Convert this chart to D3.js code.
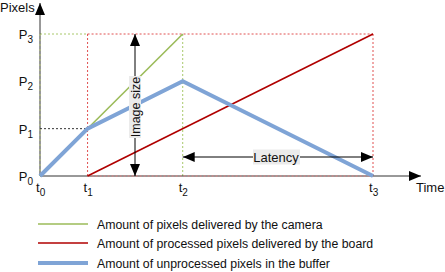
<!DOCTYPE html>
<html>
<head>
<meta charset="utf-8">
<script src="https://cdn.jsdelivr.net/npm/d3@7"></script>
<style>
  body { margin: 0; background: #fff; }
  svg { font-family: "Liberation Sans", Arial, sans-serif; }
</style>
</head>
<body>
<svg id="chart" width="445" height="272"></svg>
<script>
// time ticks t0..t3 and pixel ticks P0..P3 (in arbitrary units)
const timeTicks = [0, 1, 3, 7];
const timeNames = ["0", "1", "2", "3"];
const pixelTicks = [0, 1, 2, 3];
const pixelNames = ["0", "1", "2", "3"];

// series as [time, pixels]
const camera = [[0, 0], [3, 3]];
const board = [[1, 0], [7, 3]];
const buffer = [[0, 0], [1, 1], [3, 2], [7, 0]];

const legendItems = [
  {label: "Amount of pixels delivered by the camera", color: "#9bbb59", width: 1.6},
  {label: "Amount of processed pixels delivered by the board", color: "#b00000", width: 1.6},
  {label: "Amount of unprocessed pixels in the buffer", color: "#7fa4d6", width: 4}
];

const svg = d3.select("#chart");
const x = d3.scaleLinear().domain([0, 7]).range([40, 373]);
const y = d3.scaleLinear().domain([0, 3]).range([176, 34]);
const line = d3.line().x(d => x(d[0])).y(d => y(d[1]));

const defs = svg.append("defs");
defs.append("marker")
  .attr("id", "arr")
  .attr("viewBox", "0 0 12 10")
  .attr("refX", 12).attr("refY", 5)
  .attr("markerWidth", 12).attr("markerHeight", 10)
  .attr("markerUnits", "userSpaceOnUse")
  .attr("orient", "auto-start-reverse")
  .append("path").attr("d", "M0,0L12,5L0,10Z").attr("fill", "#000");

const g = svg.append("g");

// guide lines
const guide = (x1, y1, x2, y2, c, dash) => g.append("line")
  .attr("x1", x1).attr("y1", y1).attr("x2", x2).attr("y2", y2)
  .attr("stroke", c).attr("stroke-width", 1).attr("stroke-dasharray", dash);

// red dotted box around the board output
guide(x(1), y(3), x(7), y(3), "#e05050", "2,2");
guide(x(1), y(3), x(1), y(0), "#e05050", "2,2");
guide(x(7), y(3), x(7), y(0), "#e05050", "2,2");
// green dotted guides
guide(x(0), y(3), x(1), y(3), "#a8c86a", "2,2");
guide(x(3), y(3), x(3), y(0), "#a8c86a", "2,2");
// P1 black dashed
guide(x(0), y(1), x(1), y(1), "#333", "2,2");

// axes
g.append("line").attr("x1", x(0)).attr("y1", y(0)).attr("x2", x(0)).attr("y2", 3)
  .attr("stroke", "#333").attr("stroke-width", 1).attr("marker-end", "url(#arr)");
g.append("line").attr("x1", x(0)).attr("y1", y(0)).attr("x2", 421).attr("y2", y(0))
  .attr("stroke", "#333").attr("stroke-width", 1).attr("marker-end", "url(#arr)");
guide(x(1), y(0), x(7), y(0), "#e88080", "2,2");
guide(x(0), y(3), x(0), y(0), "#b8c878", "2,3");

// series
g.append("path").attr("d", line(camera)).attr("fill", "none")
  .attr("stroke", legendItems[0].color).attr("stroke-width", legendItems[0].width);
g.append("path").attr("d", line(board)).attr("fill", "none")
  .attr("stroke", legendItems[1].color).attr("stroke-width", legendItems[1].width);
g.append("path").attr("d", line(buffer)).attr("fill", "none")
  .attr("stroke", legendItems[2].color).attr("stroke-width", legendItems[2].width)
  .attr("stroke-linejoin", "miter");

// image size arrow
const ax = 135;
g.append("line").attr("x1", ax).attr("y1", 107).attr("x2", ax).attr("y2", y(3))
  .attr("stroke", "#000").attr("marker-end", "url(#arr)");
g.append("line").attr("x1", ax).attr("y1", 107).attr("x2", ax).attr("y2", y(0))
  .attr("stroke", "#000").attr("marker-end", "url(#arr)");
g.append("rect").attr("x", ax - 6).attr("y", 76).attr("width", 12).attr("height", 62)
  .attr("fill", "#ebebeb");
g.append("text").attr("transform", `translate(${ax + 4.5},107) rotate(-90)`)
  .attr("text-anchor", "middle").attr("font-size", 12.5).attr("fill", "#111")
  .text("Image size");

// latency arrow
const ly = 157;
g.append("line").attr("x1", 276).attr("y1", ly).attr("x2", x(3)).attr("y2", ly)
  .attr("stroke", "#000").attr("marker-end", "url(#arr)");
g.append("line").attr("x1", 276).attr("y1", ly).attr("x2", x(7)).attr("y2", ly)
  .attr("stroke", "#000").attr("marker-end", "url(#arr)");
g.append("rect").attr("x", 253).attr("y", ly - 7.5).attr("width", 47).attr("height", 15)
  .attr("fill", "#ebebeb");
g.append("text").attr("x", 276).attr("y", ly + 4.5).attr("text-anchor", "middle")
  .attr("font-size", 13).attr("fill", "#111").text("Latency");

// tick labels
const pLab = g.selectAll("text.p").data(pixelTicks).join("text").attr("class", "p")
  .attr("x", 33).attr("y", d => y(d) + 5).attr("text-anchor", "end")
  .attr("font-size", 13).attr("fill", "#111");
pLab.append("tspan").text("P");
pLab.append("tspan").attr("font-size", 10).attr("dy", 4).text((d, i) => pixelNames[i]);

const tLab = g.selectAll("text.t").data(timeTicks).join("text").attr("class", "t")
  .attr("x", d => x(d) - 4).attr("y", 192)
  .attr("font-size", 13).attr("fill", "#111");
tLab.append("tspan").text("t");
tLab.append("tspan").attr("font-size", 10).attr("dy", 4).text((d, i) => timeNames[i]);

g.append("text").attr("x", 0).attr("y", 12).attr("font-size", 13).attr("fill", "#111").text("Pixels");
g.append("text").attr("x", 416).attr("y", 192).attr("font-size", 13).attr("fill", "#111").text("Time");

// legend
const lg = svg.append("g").selectAll("g").data(legendItems).join("g")
  .attr("transform", (d, i) => `translate(0,${[224, 243, 263][i]})`);
lg.append("line").attr("x1", 38).attr("x2", 88)
  .attr("stroke", d => d.color).attr("stroke-width", d => d.width);
lg.append("text").attr("x", 97).attr("y", 4.5).attr("font-size", 12.3).attr("fill", "#111")
  .text(d => d.label);
</script>
</body>
</html>
